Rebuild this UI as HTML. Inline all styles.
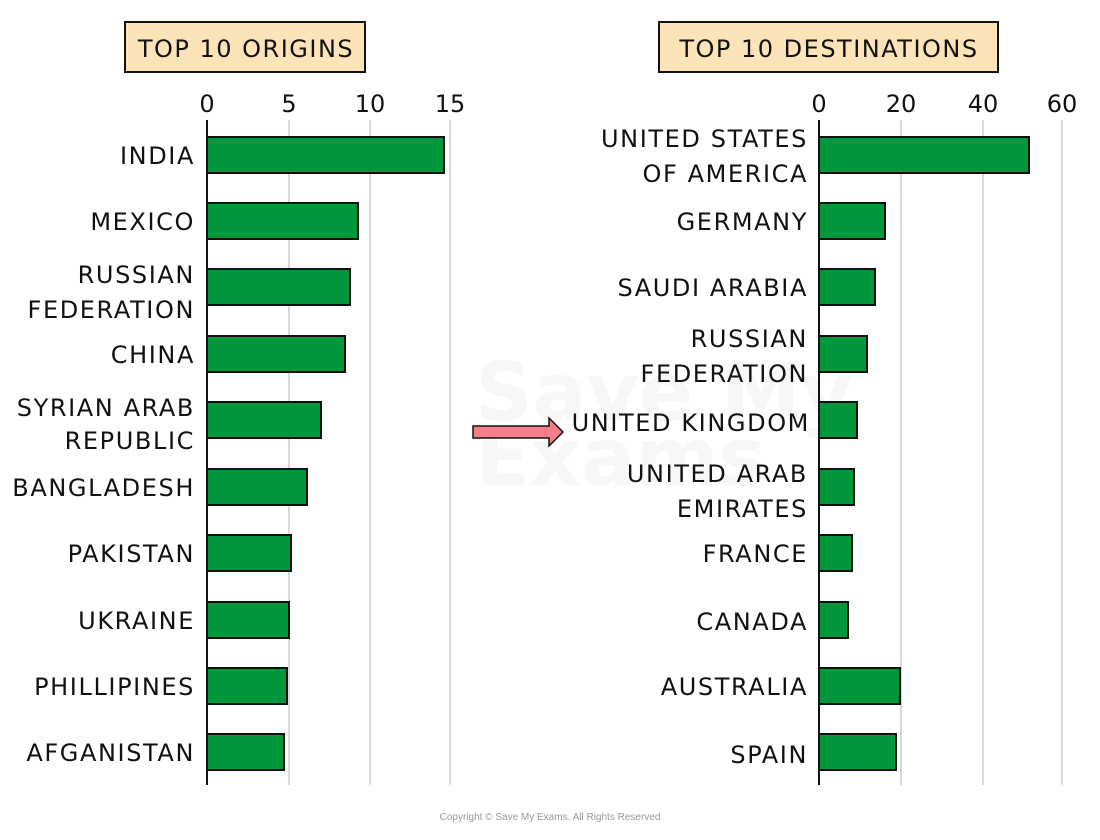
<!DOCTYPE html>
<html><head><meta charset="utf-8"><style>
html,body{margin:0;padding:0;background:#fff;}
svg text{font-family:"DejaVu Sans","Liberation Sans",sans-serif;fill:#111;}
</style></head><body>
<svg width="1100" height="835" viewBox="0 0 1100 835" xmlns="http://www.w3.org/2000/svg">
<text x="475" y="420" font-size="80" font-weight="bold" style="fill:#f7f7f7">Save My</text>
<text x="475" y="485" font-size="80" font-weight="bold" style="fill:#f7f7f7">Exams</text>

<rect x="125" y="22" width="240" height="50" fill="#fde3b8" stroke="#111" stroke-width="2"/>
<text x="246" y="57" font-size="24" text-anchor="middle" letter-spacing="1.5">TOP 10 ORIGINS</text>
<rect x="659" y="22" width="339" height="50" fill="#fde3b8" stroke="#111" stroke-width="2"/>
<text x="829" y="57" font-size="24" text-anchor="middle" letter-spacing="1.5">TOP 10 DESTINATIONS</text>

<g stroke="#d8d8d8" stroke-width="2">
<line x1="289" y1="120" x2="289" y2="785"/><line x1="370" y1="120" x2="370" y2="785"/><line x1="450" y1="120" x2="450" y2="785"/>
<line x1="901" y1="120" x2="901" y2="785"/><line x1="983" y1="120" x2="983" y2="785"/><line x1="1062" y1="120" x2="1062" y2="785"/>
</g>
<g font-size="24" text-anchor="middle">
<text x="207" y="112">0</text><text x="289" y="112">5</text><text x="370" y="112">10</text><text x="450" y="112">15</text>
<text x="819" y="112">0</text><text x="901" y="112">20</text><text x="983" y="112">40</text><text x="1062" y="112">60</text>
</g>

<g fill="#00963c" stroke="#111" stroke-width="2">
<rect x="207" y="137" width="237" height="36"/>
<rect x="207" y="203" width="151" height="36"/>
<rect x="207" y="269" width="143" height="36"/>
<rect x="207" y="336" width="138" height="36"/>
<rect x="207" y="402" width="114" height="36"/>
<rect x="207" y="469" width="100" height="36"/>
<rect x="207" y="535" width="84" height="36"/>
<rect x="207" y="602" width="82" height="36"/>
<rect x="207" y="668" width="80" height="36"/>
<rect x="207" y="734" width="77" height="36"/>

<rect x="819" y="137" width="210" height="36"/>
<rect x="819" y="203" width="66" height="36"/>
<rect x="819" y="269" width="56" height="36"/>
<rect x="819" y="336" width="48" height="36"/>
<rect x="819" y="402" width="38" height="36"/>
<rect x="819" y="469" width="35" height="36"/>
<rect x="819" y="535" width="33" height="36"/>
<rect x="819" y="602" width="29" height="36"/>
<rect x="819" y="668" width="81" height="36"/>
<rect x="819" y="734" width="77" height="36"/>
</g>
<line x1="207" y1="120" x2="207" y2="785" stroke="#111" stroke-width="2"/>
<line x1="819" y1="120" x2="819" y2="785" stroke="#111" stroke-width="2"/>

<g font-size="24" text-anchor="end" letter-spacing="1.6">
<text x="195" y="164">INDIA</text>
<text x="195" y="230">MEXICO</text>
<text x="195" y="283">RUSSIAN</text>
<text x="195" y="318">FEDERATION</text>
<text x="195" y="363">CHINA</text>
<text x="195" y="416">SYRIAN ARAB</text>
<text x="195" y="449">REPUBLIC</text>
<text x="195" y="496">BANGLADESH</text>
<text x="195" y="562">PAKISTAN</text>
<text x="195" y="629">UKRAINE</text>
<text x="195" y="695">PHILLIPINES</text>
<text x="195" y="761">AFGANISTAN</text>

<text x="808" y="147">UNITED STATES</text>
<text x="808" y="182">OF AMERICA</text>
<text x="808" y="230">GERMANY</text>
<text x="808" y="296">SAUDI ARABIA</text>
<text x="808" y="347">RUSSIAN</text>
<text x="808" y="382">FEDERATION</text>
<text x="810" y="431">UNITED KINGDOM</text>
<text x="808" y="482">UNITED ARAB</text>
<text x="808" y="517">EMIRATES</text>
<text x="808" y="562">FRANCE</text>
<text x="808" y="630">CANADA</text>
<text x="808" y="695">AUSTRALIA</text>
<text x="808" y="763">SPAIN</text>
</g>

<polygon points="473,426 549,426 549,418 563,432 549,446 549,438 473,438" fill="#f47f8a" stroke="#111" stroke-width="1.5"/>

<text x="550" y="820" font-size="10" text-anchor="middle" style="fill:#999;font-family:'Liberation Sans',sans-serif">Copyright © Save My Exams. All Rights Reserved</text>
</svg>
</body></html>
